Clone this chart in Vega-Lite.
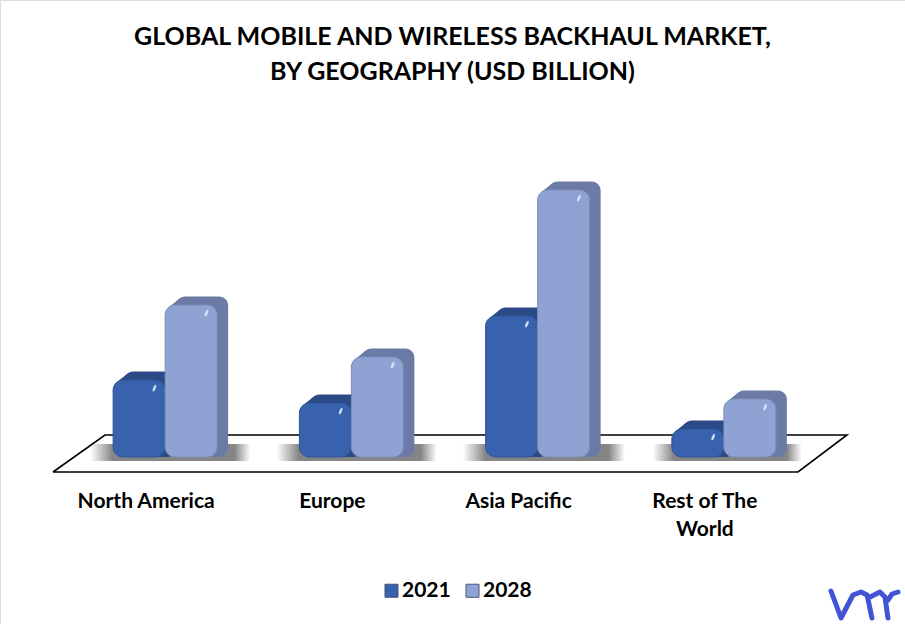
{
  "$schema": "https://vega.github.io/schema/vega-lite/v6.json",
  "width": 905, "height": 624,
  "padding": 0,
  "autosize": {"type": "none"},
  "background": "white",
  "title": {
    "text": ["GLOBAL MOBILE AND WIRELESS BACKHAUL MARKET,", "BY GEOGRAPHY (USD BILLION)"],
    "font": "Lato", "fontSize": 25, "fontWeight": 700, "color": "#000000",
    "anchor": "middle", "lineHeight": 35, "baseline": "middle", "offset": 0, "dy": 97
  },
  "datasets": {
    "sales": [
      {"region": "North America", "year": "2021", "value": 7.7, "base": 0},
      {"region": "North America", "year": "2028", "value": 15.2, "base": 0},
      {"region": "Europe", "year": "2021", "value": 5.4, "base": 0},
      {"region": "Europe", "year": "2028", "value": 10.0, "base": 0},
      {"region": "Asia Pacific", "year": "2021", "value": 14.1, "base": 0},
      {"region": "Asia Pacific", "year": "2028", "value": 26.7, "base": 0},
      {"region": "Rest of The World", "year": "2021", "value": 2.8, "base": 0},
      {"region": "Rest of The World", "year": "2028", "value": 5.8, "base": 0}
    ],
    "floor": [
      {"u": 0, "v": -1.5, "k": 0},
      {"u": 4, "v": -1.5, "k": 1},
      {"u": 4.263, "v": 2.2, "k": 2},
      {"u": 0.279, "v": 2.2, "k": 3},
      {"u": 0, "v": -1.5, "k": 4}
    ],
    "shadow": [
      {"u0": 0.2, "u1": 1.06, "v0": 1.3, "v1": -0.4},
      {"u0": 1.2, "u1": 2.06, "v0": 1.3, "v1": -0.4},
      {"u0": 2.2, "u1": 3.07, "v0": 1.3, "v1": -0.4},
      {"u0": 3.22, "u1": 4.02, "v0": 1.3, "v1": -0.4}
    ],
    "logo": [
      {"part": "a", "k": 0, "u": 4.177, "v": -13.4},
      {"part": "a", "k": 1, "u": 4.231, "v": -16.1},
      {"part": "a", "k": 2, "u": 4.295, "v": -13.8},
      {"part": "a", "k": 3, "u": 4.338, "v": -13.5},
      {"part": "a", "k": 4, "u": 4.371, "v": -13.8},
      {"part": "a", "k": 5, "u": 4.397, "v": -16.1},
      {"part": "b", "k": 0, "u": 4.387, "v": -14.0},
      {"part": "b", "k": 1, "u": 4.44, "v": -13.5},
      {"part": "b", "k": 2, "u": 4.467, "v": -14.0},
      {"part": "b", "k": 3, "u": 4.483, "v": -16.1},
      {"part": "c", "k": 0, "u": 4.483, "v": -14.3},
      {"part": "c", "k": 1, "u": 4.505, "v": -13.7},
      {"part": "c", "k": 2, "u": 4.537, "v": -13.5}
    ]
  },
  "resolve": {"scale": {"x": "independent"}, "axis": {"x": "independent"}},
  "layer": [
    {
      "data": {"name": "floor"},
      "mark": {"type": "line", "color": "#000000", "strokeWidth": 1.6, "interpolate": "linear"},
      "encoding": {
        "x": {"field": "u", "type": "quantitative", "axis": null, "scale": {"domain": [-0.28456, 4.5745], "nice": false, "zero": false}},
        "y": {"field": "v", "type": "quantitative", "axis": null, "scale": {"domain": [-16.7, 45.7], "nice": false, "zero": false}},
        "order": {"field": "k"}
      }
    },
    {
      "data": {"name": "shadow"},
      "mark": {
        "type": "rect",
        "color": {
          "gradient": "linear", "x1": 0, "x2": 1, "y1": 0, "y2": 0,
          "stops": [
            {"offset": 0, "color": "rgba(133,133,133,0)"},
            {"offset": 0.14, "color": "#858585"},
            {"offset": 0.9, "color": "#858585"},
            {"offset": 1, "color": "rgba(133,133,133,0)"}
          ]
        }
      },
      "encoding": {
        "x": {"field": "u0", "type": "quantitative", "axis": null, "scale": {"domain": [-0.28456, 4.5745], "nice": false, "zero": false}},
        "x2": {"field": "u1"},
        "y": {"field": "v0", "type": "quantitative", "axis": null, "scale": {"domain": [-16.7, 45.7], "nice": false, "zero": false}},
        "y2": {"field": "v1"}
      }
    },
    {
      "data": {"name": "logo"},
      "mark": {"type": "line", "color": "#4353d6", "strokeWidth": 5, "strokeJoin": "round", "strokeCap": "round"},
      "encoding": {
        "x": {"field": "u", "type": "quantitative", "axis": null, "scale": {"domain": [-0.28456, 4.5745], "nice": false, "zero": false}},
        "y": {"field": "v", "type": "quantitative", "axis": null, "scale": {"domain": [-16.7, 45.7], "nice": false, "zero": false}},
        "detail": {"field": "part"},
        "order": {"field": "k"}
      }
    },
    {
      "data": {"name": "sales"},
      "resolve": {"scale": {"xOffset": "independent"}},
      "encoding": {
        "x": {
          "field": "region", "type": "nominal", "sort": null,
          "scale": {"range": [53, 798], "paddingInner": 0.4416, "paddingOuter": 0.2208},
          "axis": {
            "title": null, "domain": false, "ticks": false, "labelAngle": 0, "offset": -134,
            "labelFont": "Lato", "labelFontSize": 21, "labelFontWeight": 700, "labelColor": "#000000",
            "labelLineHeight": 28, "labelPadding": 0, "labelBaseline": "top",
            "labelExpr": "datum.label == 'Rest of The World' ? ['Rest of The', 'World'] : datum.label"
          }
        },
        "y": {"field": "value", "type": "quantitative", "axis": null, "scale": {"domain": [-16.7, 45.7], "nice": false, "zero": false}},
        "y2": {"field": "base"}
      },
      "layer": [
        {
          "mark": {"type": "bar", "cornerRadius": 9, "yOffset": -2},
          "encoding": {
            "xOffset": {"field": "year", "type": "nominal", "scale": {"range": [22, 126], "paddingInner": 0, "paddingOuter": 0}},
            "color": {"condition": {"test": "datum.year == '2021'", "value": "#2a4b85"}, "value": "#6c7aa6"}
          }
        },
        {
          "mark": {"type": "bar", "cornerRadius": 9, "yOffset": -4},
          "encoding": {
            "xOffset": {"field": "year", "type": "nominal", "scale": {"range": [24.5, 128.5], "paddingInner": 0, "paddingOuter": 0}},
            "color": {"condition": {"test": "datum.year == '2021'", "value": "#2a4b85"}, "value": "#6c7aa6"}
          }
        },
        {
          "mark": {"type": "bar", "cornerRadius": 9, "yOffset": -6.5},
          "encoding": {
            "xOffset": {"field": "year", "type": "nominal", "scale": {"range": [27.5, 131.5], "paddingInner": 0, "paddingOuter": 0}},
            "color": {"condition": {"test": "datum.year == '2021'", "value": "#2a4b85"}, "value": "#6c7aa6"}
          }
        },
        {
          "mark": {"type": "bar", "cornerRadius": 9, "yOffset": -8.5},
          "encoding": {
            "xOffset": {"field": "year", "type": "nominal", "scale": {"range": [30, 134], "paddingInner": 0, "paddingOuter": 0}},
            "color": {"condition": {"test": "datum.year == '2021'", "value": "#2a4b85"}, "value": "#6c7aa6"}
          }
        },
        {
          "mark": {"type": "bar", "cornerRadius": 10, "strokeWidth": 1},
          "encoding": {
            "xOffset": {"field": "year", "type": "nominal", "scale": {"range": [19, 123], "paddingInner": 0, "paddingOuter": 0}},
            "color": {
              "field": "year", "type": "nominal",
              "scale": {"domain": ["2021", "2028"], "range": ["#3862ad", "#8fa2d4"]},
              "legend": {
                "title": null, "orient": "none", "legendX": 381, "legendY": 580, "direction": "horizontal",
                "symbolType": "square", "symbolSize": 170, "symbolStrokeColor": "#4a5675", "symbolStrokeWidth": 1,
                "labelFont": "Lato", "labelFontSize": 21, "labelFontWeight": 700, "labelColor": "#000000",
                "columnPadding": 11, "labelOffset": 0
              }
            },
            "stroke": {"condition": {"test": "datum.year == '2021'", "value": "#2f5596"}, "value": "#7d8db8"}
          }
        },
        {
          "mark": {
            "type": "point", "filled": true, "opacity": 0.9, "size": 45, "yOffset": 8, "color": "#dfe9ff",
            "shape": "M0.5,-1 C0.9,-1 0.4,1 -0.3,1 C-0.8,1 -0.1,-1 0.5,-1 Z"
          },
          "encoding": {
            "xOffset": {"field": "year", "type": "nominal", "scale": {"range": [60, 112], "padding": 0}}
          }
        }
      ]
    }
  ]
}
